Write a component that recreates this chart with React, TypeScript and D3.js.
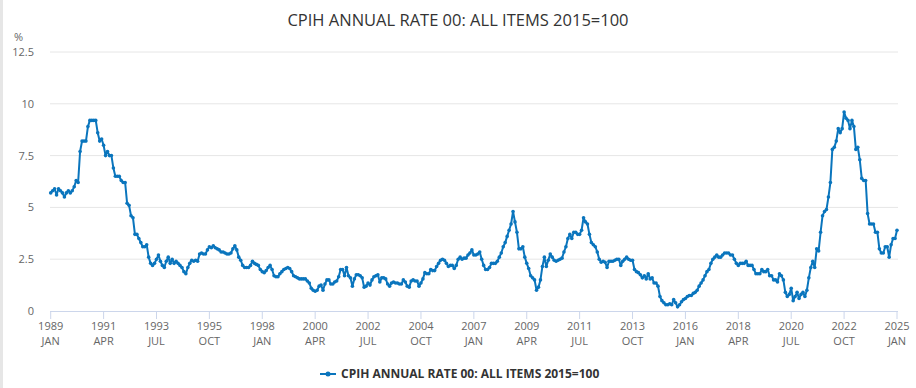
import React from "react";
import * as d3 from "d3";

// CPIH annual rate, monthly, Jan 1989 .. Jan 2025 (%)
const startYear = 1989;
const y1989 = [5.7, 5.8, 5.9, 5.6, 5.9, 5.8, 5.7, 5.5, 5.7, 5.8, 5.7, 5.8];
const y1990 = [6.0, 6.3, 6.2, 7.7, 8.2, 8.2, 8.2, 8.9, 9.2, 9.2, 9.2, 9.2];
const y1991 = [8.6, 8.2, 8.3, 8.0, 7.5, 7.7, 7.5, 7.5, 6.9, 6.5, 6.5, 6.5];
const y1992 = [6.3, 6.2, 6.2, 5.2, 5.1, 4.6, 4.5, 3.7, 3.7, 3.5, 3.3, 3.1];
const y1993 = [3.1, 3.2, 2.6, 2.3, 2.2, 2.3, 2.5, 2.7, 2.4, 2.2, 2.1, 2.4];
const y1994 = [2.6, 2.3, 2.5, 2.3, 2.4, 2.3, 2.2, 2.1, 1.9, 1.8, 2.1, 2.3];
const y1995 = [2.45, 2.4, 2.45, 2.4, 2.75, 2.8, 2.75, 2.75, 2.95, 3.1, 3.05, 3.15];
const y1996 = [3.05, 3.0, 2.95, 2.85, 2.85, 2.8, 2.75, 2.75, 2.8, 3.0, 3.15, 2.95];
const y1997 = [2.6, 2.45, 2.2, 2.1, 2.1, 2.1, 2.2, 2.4, 2.3, 2.25, 2.2, 2.0];
const y1998 = [1.9, 1.85, 1.95, 2.1, 2.2, 2.0, 1.7, 1.65, 1.65, 1.8, 1.9, 2.0];
const y1999 = [2.05, 2.1, 2.05, 1.9, 1.7, 1.65, 1.6, 1.55, 1.55, 1.55, 1.55, 1.45];
const y2000 = [1.35, 1.1, 1.0, 0.95, 1.0, 1.2, 1.25, 1.0, 1.3, 1.5, 1.5, 1.3];
const y2001 = [1.3, 1.4, 1.45, 1.65, 2.0, 2.0, 1.7, 2.1, 1.7, 1.6, 1.2, 1.55];
const y2002 = [1.75, 1.75, 1.7, 1.6, 1.15, 1.2, 1.35, 1.25, 1.5, 1.65, 1.7, 1.75];
const y2003 = [1.4, 1.6, 1.6, 1.55, 1.3, 1.2, 1.35, 1.4, 1.35, 1.35, 1.3, 1.3];
const y2004 = [1.5, 1.4, 1.2, 1.15, 1.45, 1.5, 1.45, 1.45, 1.2, 1.35, 1.55, 1.85];
const y2005 = [1.8, 1.8, 2.0, 1.95, 1.95, 2.15, 2.3, 2.45, 2.5, 2.45, 2.3, 2.15];
const y2006 = [2.2, 2.2, 2.05, 2.2, 2.5, 2.6, 2.5, 2.55, 2.55, 2.7, 2.8, 2.95];
const y2007 = [2.7, 2.7, 2.75, 2.85, 2.5, 2.2, 2.0, 2.0, 2.1, 2.3, 2.3, 2.3];
const y2008 = [2.4, 2.6, 2.8, 3.1, 3.3, 3.6, 3.9, 4.2, 4.8, 4.3, 3.8, 3.0];
const y2009 = [3.0, 3.1, 2.6, 2.3, 2.05, 1.7, 1.6, 1.5, 1.0, 1.15, 1.5, 2.15];
const y2010 = [2.6, 2.15, 2.45, 2.75, 2.6, 2.45, 2.4, 2.45, 2.5, 2.55, 2.85, 3.1];
const y2011 = [3.5, 3.7, 3.5, 3.8, 3.8, 3.7, 3.7, 3.9, 4.5, 4.3, 4.2, 3.7];
const y2012 = [3.3, 3.2, 3.1, 2.85, 2.5, 2.35, 2.4, 2.35, 2.1, 2.4, 2.4, 2.4];
const y2013 = [2.45, 2.5, 2.5, 2.2, 2.4, 2.5, 2.6, 2.5, 2.45, 2.45, 2.0, 1.9];
const y2014 = [1.85, 1.75, 1.6, 1.7, 1.55, 1.8, 1.55, 1.6, 1.35, 1.35, 1.2, 0.7];
const y2015 = [0.5, 0.4, 0.3, 0.3, 0.35, 0.3, 0.55, 0.4, 0.2, 0.3, 0.45, 0.55];
const y2016 = [0.6, 0.7, 0.75, 0.75, 0.85, 0.9, 1.0, 1.2, 1.35, 1.5, 1.7, 1.9];
const y2017 = [2.0, 2.3, 2.5, 2.6, 2.7, 2.6, 2.6, 2.7, 2.8, 2.8, 2.8, 2.7];
const y2018 = [2.7, 2.5, 2.3, 2.2, 2.3, 2.3, 2.3, 2.4, 2.2, 2.2, 2.2, 2.0];
const y2019 = [1.8, 1.8, 1.8, 2.0, 1.9, 1.9, 2.0, 1.7, 1.7, 1.5, 1.5, 1.4];
const y2020 = [1.8, 1.7, 1.5, 0.9, 0.7, 0.8, 1.1, 0.5, 0.7, 0.9, 0.6, 0.8];
const y2021 = [0.9, 0.7, 1.0, 1.6, 2.1, 2.4, 2.1, 3.0, 2.9, 3.8, 4.6, 4.8];
const y2022 = [4.9, 5.5, 6.2, 7.8, 7.9, 8.2, 8.8, 8.6, 8.8, 9.6, 9.3, 9.2];
const y2023 = [8.8, 9.2, 8.9, 7.8, 7.9, 7.3, 6.4, 6.3, 6.3, 4.7, 4.2, 4.2];
const y2024 = [4.2, 3.8, 3.8, 3.0, 2.8, 2.8, 3.1, 3.1, 2.6, 3.2, 3.5, 3.5];
const y2025 = [3.9];

const rates = [
  y1989, y1990, y1991, y1992, y1993, y1994, y1995, y1996, y1997, y1998,
  y1999, y2000, y2001, y2002, y2003, y2004, y2005, y2006, y2007, y2008,
  y2009, y2010, y2011, y2012, y2013, y2014, y2015, y2016, y2017, y2018,
  y2019, y2020, y2021, y2022, y2023, y2024, y2025
].flat();

const yTicks = [0, 2.5, 5, 7.5, 10, 12.5];
const monthNames = ["JAN", "FEB", "MAR", "APR", "MAY", "JUN", "JUL", "AUG", "SEP", "OCT", "NOV", "DEC"];
const tickStep = 27; // months between x labels
const seriesName = "CPIH ANNUAL RATE 00: ALL ITEMS 2015=100";

const W = 916;
const H = 388;
const blue = "#0a75bd";
const font = "'Open Sans', sans-serif";

export default function App() {
  const x = d3.scaleLinear().domain([0, rates.length - 1]).range([50.7, 897]);
  const y = d3.scaleLinear().domain([0, 12.5]).range([311, 52]);

  const line = d3
    .line<number>()
    .x((d, i) => x(i))
    .y(d => y(d));

  const xTicks = d3.range(0, rates.length, tickStep);

  return (
    <svg
      width={W}
      height={H}
      style={{ position: "absolute", left: 0, top: 0, background: "#fff" }}
      fontFamily={font}
    >
      <rect x={0} y={0} width={3} height={H} fill="#e6e6e6" />
      <text x={458} y={26} textAnchor="middle" fontSize={16.5} fill="#333">
        {seriesName}
      </text>

      <text x={14} y={41} fontSize={11} fill="#666">%</text>

      {yTicks.map(t => (
        <g key={t}>
          {t > 0 && (
            <line x1={50} x2={898} y1={y(t)} y2={y(t)} stroke="#e6e6e6" strokeWidth={1} />
          )}
          <text x={34} y={y(t) + 4} textAnchor="end" fontSize={11} fill="#666">
            {t}
          </text>
        </g>
      ))}

      <line x1={50} x2={898} y1={y(0) + 0.5} y2={y(0) + 0.5} stroke="#ccd6eb" strokeWidth={1} />
      {xTicks.map(i => (
        <g key={i} transform={`translate(${x(i)},0)`}>
          <line x1={0} x2={0} y1={y(0)} y2={y(0) + 8} stroke="#ccd6eb" strokeWidth={1} />
          <text y={330} textAnchor="middle" fontSize={11} fill="#666">
            {startYear + Math.floor(i / 12)}
          </text>
          <text y={345} textAnchor="middle" fontSize={11} fill="#666">
            {monthNames[i % 12]}
          </text>
        </g>
      ))}

      <path d={line(rates) || ""} fill="none" stroke={blue} strokeWidth={2} strokeLinejoin="round" />
      {rates.map((d, i) => (
        <circle key={i} cx={x(i)} cy={y(d)} r={1.8} fill={blue} />
      ))}

      <g transform="translate(320,374)">
        <line x1={0} x2={16} y1={0} y2={0} stroke={blue} strokeWidth={2} />
        <circle cx={8} cy={0} r={2.5} fill={blue} />
        <text x={21} y={4} fontSize={12} fontWeight="bold" fill="#333">
          {seriesName}
        </text>
      </g>
    </svg>
  );
}
